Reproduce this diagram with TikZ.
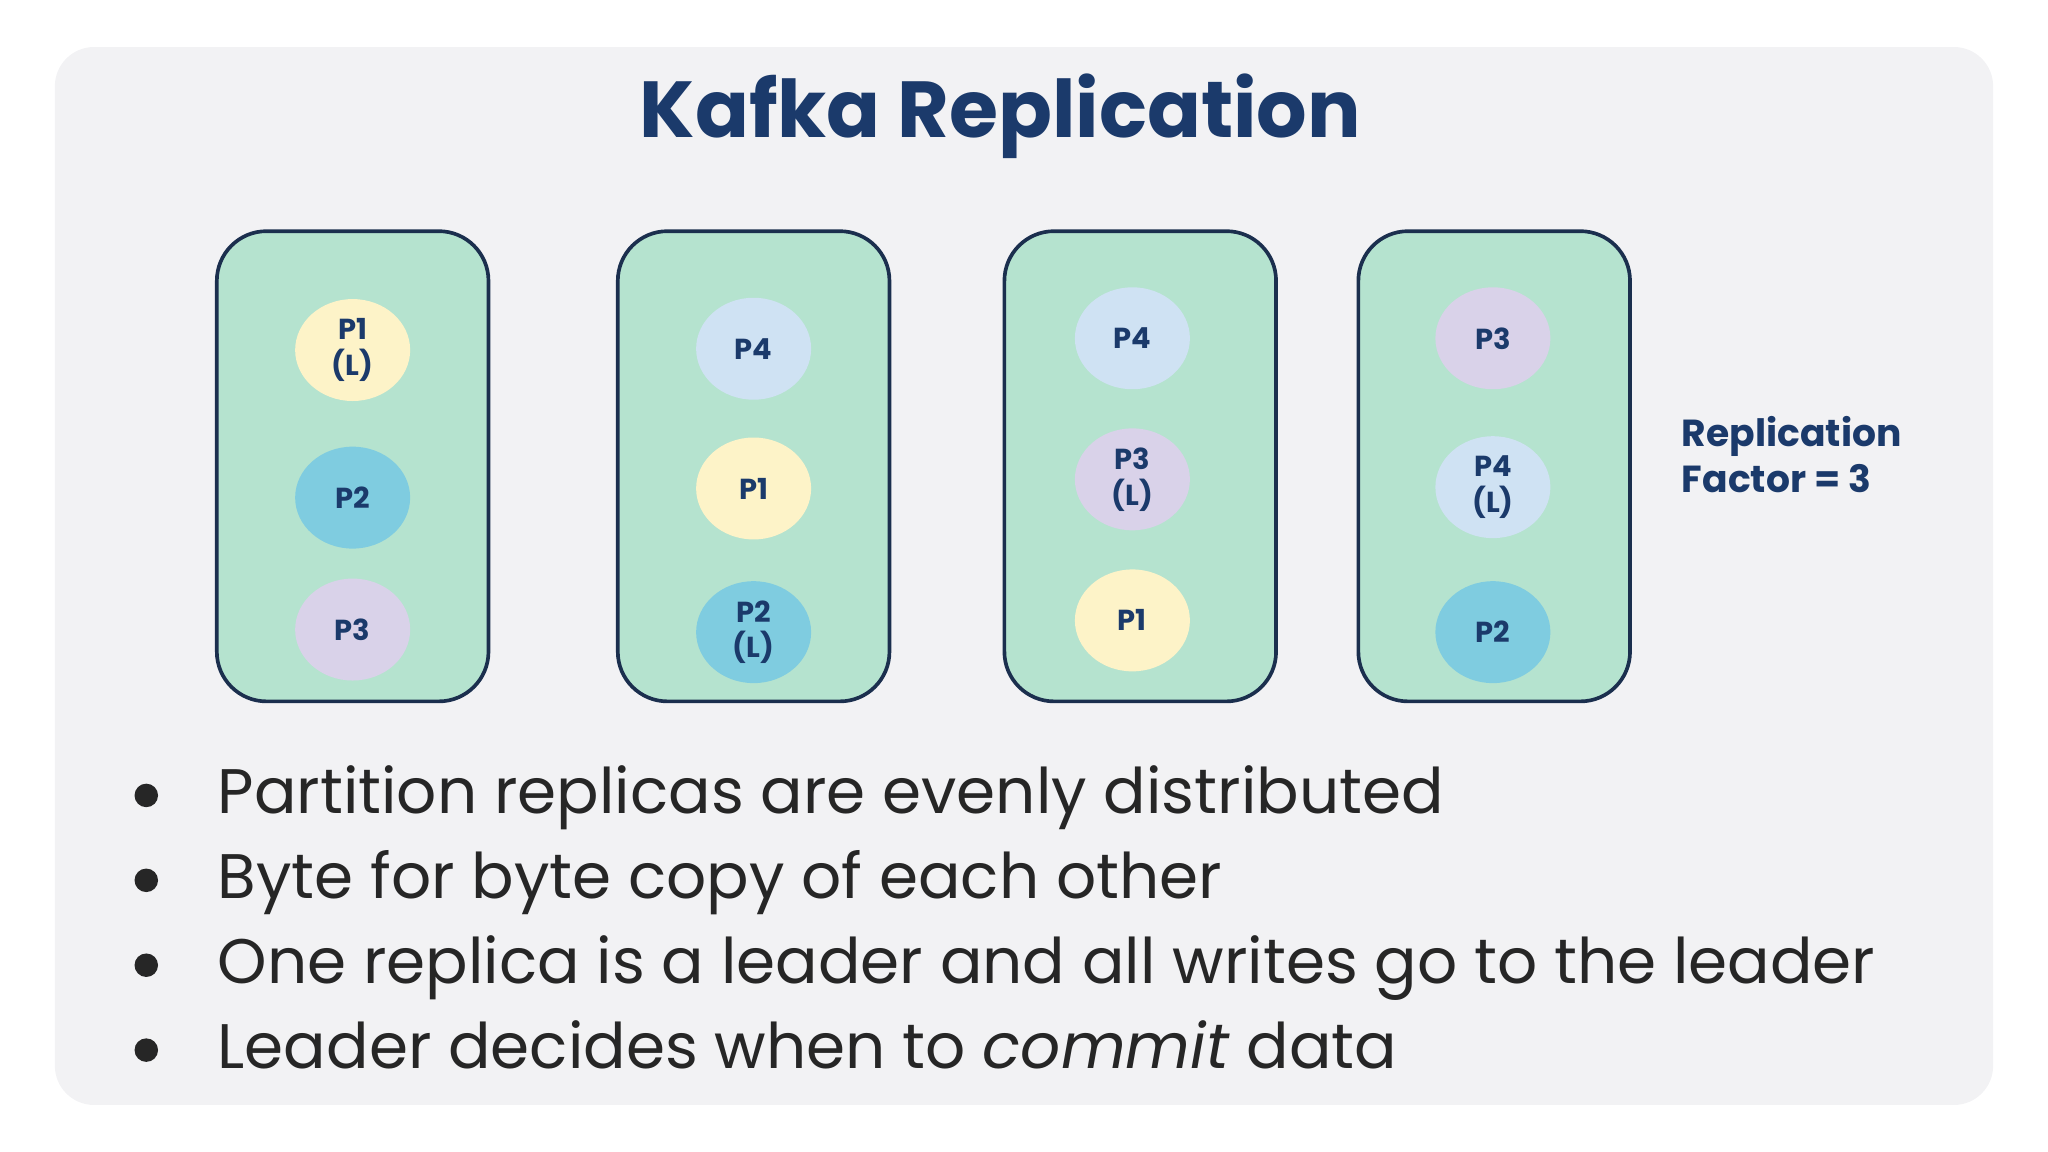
\documentclass[tikz,border=0pt]{standalone}
\usetikzlibrary{shapes.geometric}
\usepackage{fontspec}
\setmainfont{Poppins}
\definecolor{navy}{HTML}{1B3A6B}
\definecolor{edge}{HTML}{1B2F4E}
\definecolor{panel}{HTML}{F2F2F4}
\definecolor{broker}{HTML}{B5E3CF}
\definecolor{cy}{HTML}{FDF3C8}
\definecolor{cb}{HTML}{7FCCE0}
\definecolor{cl}{HTML}{D9D2E9}
\definecolor{cp}{HTML}{CFE2F3}
\begin{document}
\begin{tikzpicture}[x=0.01cm,y=-0.01cm,
  brokerbox/.style={draw=edge,line width=0.8pt,fill=broker,rounded corners=0.38cm},
  part/.style={ellipse,minimum width=0.88cm,minimum height=0.78cm,inner sep=0pt,font=\fontsize{6.3}{7.8}\selectfont\bfseries,text=navy,align=center},
  bullet/.style={anchor=base west,inner sep=0pt,font=\fontsize{13.7}{16}\selectfont,text=black!85}]
\useasboundingbox (0,0) rectangle (1568,882);
\fill[panel,rounded corners=0.3cm] (42,36) rectangle (1526,846);
\node[font=\fontsize{17.3}{20}\selectfont\bfseries,text=navy] (title) at (766,89) {Kafka Replication};
\draw[brokerbox] (166,177) rectangle (374,537);
\draw[brokerbox] (473,177) rectangle (681,537);
\draw[brokerbox] (769,177) rectangle (977,537);
\draw[brokerbox] (1040,177) rectangle (1248,537);
\node[part,fill=cy] (a1) at (270,268) {P1\\(L)};
\node[part,fill=cb] (a2) at (270,381) {P2};
\node[part,fill=cl] (a3) at (270,482) {P3};
\node[part,fill=cp] (b1) at (577,267) {P4};
\node[part,fill=cy] (b2) at (577,374) {P1};
\node[part,fill=cb] (b3) at (577,484) {P2\\(L)};
\node[part,fill=cp] (c1) at (867,259) {P4};
\node[part,fill=cl] (c2) at (867,367) {P3\\(L)};
\node[part,fill=cy] (c3) at (867,475) {P1};
\node[part,fill=cl] (d1) at (1143,259) {P3};
\node[part,fill=cp] (d2) at (1143,373) {P4\\(L)};
\node[part,fill=cb] (d3) at (1143,484) {P2};
\node[anchor=west,align=left,inner sep=0pt,font=\fontsize{8.2}{10}\selectfont\bfseries,text=navy] (rf) at (1287,348) {Replication\\Factor = 3};
\foreach \y/\t [count=\i] in {623/{Partition replicas are evenly distributed},688/{Byte for byte copy of each other},753/{One replica is a leader and all writes go to the leader},818/{Leader decides when to \textit{commit} data}}{
  \fill[black!85] (112,\y-14) circle (0.09cm);
  \node[bullet] (t\i) at (166,\y) {\t};
}
\end{tikzpicture}
\end{document}
